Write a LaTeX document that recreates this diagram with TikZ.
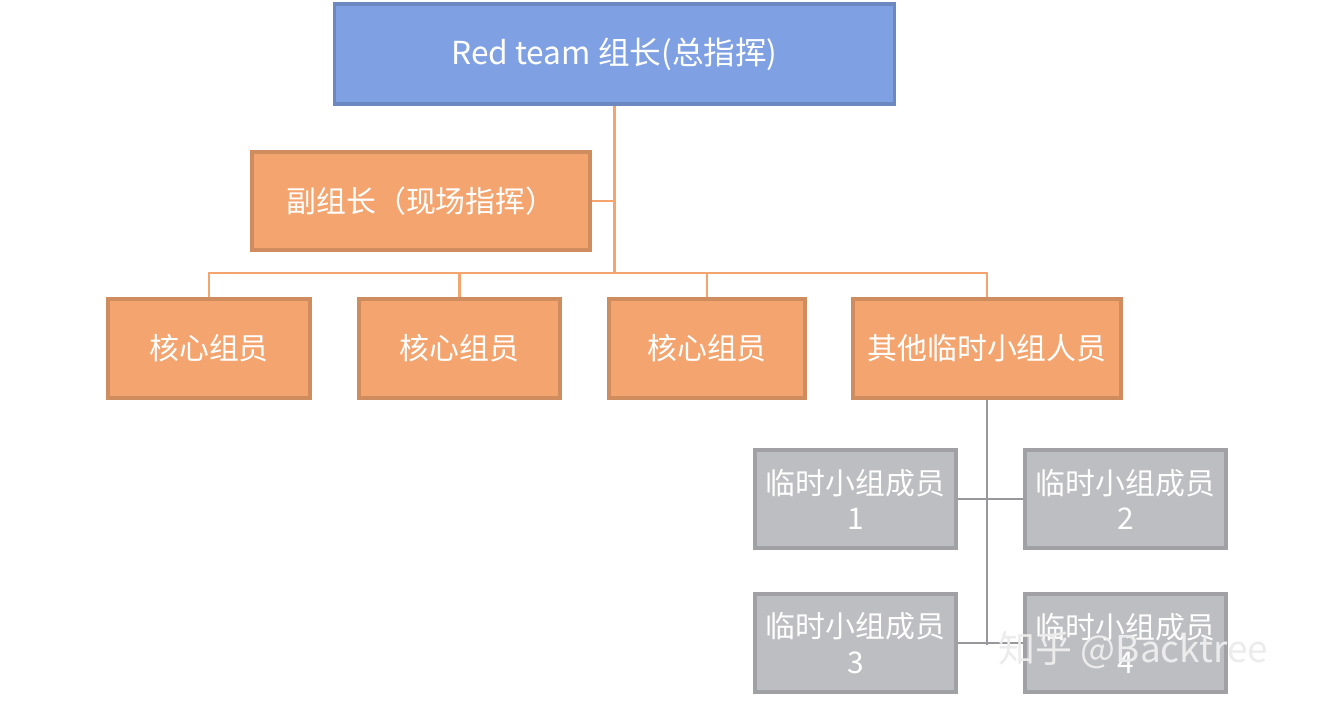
\documentclass[tikz,border=0pt]{standalone}
\usepackage{fontspec}
\setmainfont{Noto Sans CJK SC}
\definecolor{topblue}{HTML}{7FA0E2}
\definecolor{orng}{HTML}{F4A56F}
\definecolor{gry}{HTML}{BDBEC2}
\tikzset{
  box/.style={draw=#1!85!black, line width=1pt, fill=#1, text=white, font=\fontsize{8.5}{10}\selectfont, align=center, inner sep=0pt},
  link/.style={line width=0.8pt, draw=#1},
}
\begin{document}
\begin{tikzpicture}[x=0.01cm, y=-0.01cm]
\useasboundingbox (0,0) rectangle (1322,703);
% top and deputy
\node[box=topblue, minimum width=5.6cm, minimum height=1cm, font=\fontsize{9}{11}\selectfont] (lead) at (614.5,54) {Red team 组长(总指挥)};
\node[box=orng, minimum width=3.38cm, minimum height=0.98cm] (deputy) at (421,201) {副组长（现场指挥）};
% core members
\node[box=orng, minimum width=2.02cm, minimum height=0.99cm] (core1) at (209,348.5) {核心组员};
\node[box=orng, minimum width=2.01cm, minimum height=0.99cm] (core2) at (459.5,348.5) {核心组员};
\node[box=orng, minimum width=1.96cm, minimum height=0.99cm] (core3) at (707,348.5) {核心组员};
\node[box=orng, minimum width=2.68cm, minimum height=0.99cm] (other) at (987,348.5) {其他临时小组人员};
% temporary members
\node[box=gry, minimum width=2.01cm, minimum height=0.98cm] (tmp1) at (855.5,499) {临时小组成员\\1};
\node[box=gry, minimum width=2.01cm, minimum height=0.98cm] (tmp2) at (1125.5,499) {临时小组成员\\2};
\node[box=gry, minimum width=2.01cm, minimum height=0.98cm] (tmp3) at (855.5,643) {临时小组成员\\3};
\node[box=gry, minimum width=2.01cm, minimum height=0.98cm] (tmp4) at (1125.5,643) {临时小组成员\\4};
% connectors
\coordinate (hub) at (614.5,273);
\coordinate (bus) at (987,645);
\draw[link=orng] (lead.south) -- (hub);
\draw[link=orng] (deputy.east) -- (deputy.east -| hub);
\draw[link=orng] (core1.north) |- (hub) -| (other.north);
\draw[link=orng] (core2.north) -- (core2.north |- hub);
\draw[link=orng] (core3.north) -- (core3.north |- hub);
\draw[link=gry!80!black] (other.south) -- (bus);
\draw[link=gry!80!black] (tmp1.east) -- (tmp2.west);
\draw[link=gry!80!black] (tmp3.east) -- (tmp4.west);
% watermark
\node[text=gray!15, font=\fontsize{10.5}{12}\selectfont, anchor=west, inner sep=0pt] (mark) at (998,650) {知乎 @Backtree};
\end{tikzpicture}
\end{document}
